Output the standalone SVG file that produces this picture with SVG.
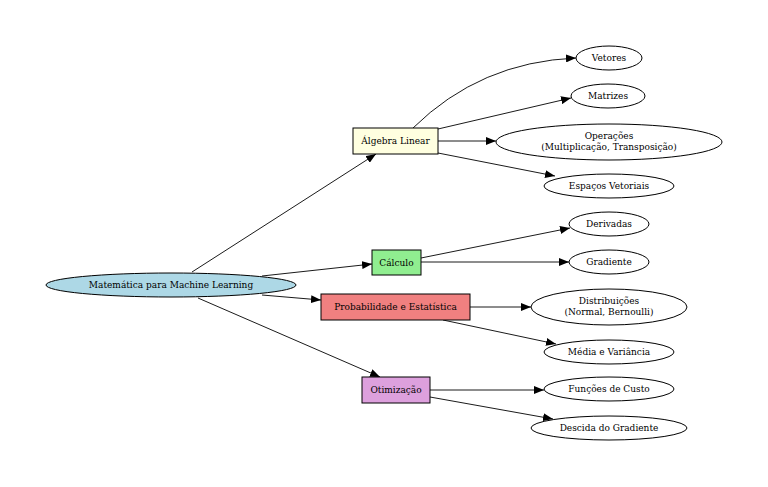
<svg xmlns="http://www.w3.org/2000/svg" width="768" height="487" viewBox="0 0 768 487">
<style>
text{font-family:"DejaVu Serif","Liberation Serif",serif;font-size:9px;fill:#000;text-anchor:middle;dominant-baseline:central}
.n{stroke:#000;stroke-width:1}
.e{fill:none;stroke:#000;stroke-width:0.9;marker-end:url(#a)}
</style>
<defs><marker id="a" viewBox="0 0 10 8" refX="10" refY="4" markerWidth="10" markerHeight="8" markerUnits="userSpaceOnUse" orient="auto"><path d="M0,0L10,4L0,8z" fill="#000"/></marker></defs>
<rect width="768" height="487" fill="#fff"/>
<g id="edges">
<path class="e" d="M192,272L376,154"/>
<path class="e" d="M262,276L372,264"/>
<path class="e" d="M262,295L321,300"/>
<path class="e" d="M198,298L380,377"/>
<path class="e" d="M413,128Q480,62 576,58"/>
<path class="e" d="M438,129L571,98"/>
<path class="e" d="M438,141L496,141"/>
<path class="e" d="M438,153L555,176"/>
<path class="e" d="M421,258L570,228"/>
<path class="e" d="M421,262L569,262"/>
<path class="e" d="M470,307L531,307"/>
<path class="e" d="M443,320L556,344"/>
<path class="e" d="M430,390L544,390"/>
<path class="e" d="M430,397L553,419"/>
</g>
<g id="root"><ellipse class="n" cx="171" cy="285" rx="125" ry="12" fill="#add8e6"/><text x="171" y="285">Matemática para Machine Learning</text></g>
<g id="algebra"><rect class="n" x="353" y="128" width="85" height="26" fill="#ffffe0"/><text x="395.5" y="141">Álgebra Linear</text></g>
<g id="calculo"><rect class="n" x="372" y="250" width="49" height="25" fill="#90ee90"/><text x="396.5" y="262.5">Cálculo</text></g>
<g id="prob"><rect class="n" x="321" y="294" width="149" height="26" fill="#f08080"/><text x="395.5" y="307">Probabilidade e Estatística</text></g>
<g id="otim"><rect class="n" x="362" y="377" width="68" height="26" fill="#dda0dd"/><text x="396" y="390">Otimização</text></g>
<g id="vetores"><ellipse class="n" cx="609" cy="58" rx="33" ry="12" fill="#fff"/><text x="609" y="58">Vetores</text></g>
<g id="matrizes"><ellipse class="n" cx="608" cy="96" rx="37" ry="12" fill="#fff"/><text x="608" y="96">Matrizes</text></g>
<g id="operacoes"><ellipse class="n" cx="609" cy="142" rx="113" ry="18" fill="#fff"/><text x="609" y="136">Operações</text><text x="609" y="147">(Multiplicação, Transposição)</text></g>
<g id="espacos"><ellipse class="n" cx="609" cy="186" rx="65" ry="12" fill="#fff"/><text x="609" y="186">Espaços Vetoriais</text></g>
<g id="derivadas"><ellipse class="n" cx="609" cy="224" rx="40" ry="12" fill="#fff"/><text x="609" y="224">Derivadas</text></g>
<g id="gradiente"><ellipse class="n" cx="609" cy="262" rx="40" ry="12" fill="#fff"/><text x="609" y="262">Gradiente</text></g>
<g id="distrib"><ellipse class="n" cx="609" cy="307" rx="78" ry="18" fill="#fff"/><text x="609" y="301">Distribuições</text><text x="609" y="312">(Normal, Bernoulli)</text></g>
<g id="media"><ellipse class="n" cx="609" cy="352" rx="65" ry="12" fill="#fff"/><text x="609" y="352">Média e Variância</text></g>
<g id="funcoes"><ellipse class="n" cx="609" cy="389" rx="65" ry="12" fill="#fff"/><text x="609" y="389">Funções de Custo</text></g>
<g id="descida"><ellipse class="n" cx="609" cy="428" rx="78" ry="12" fill="#fff"/><text x="609" y="428">Descida do Gradiente</text></g>
</svg>
